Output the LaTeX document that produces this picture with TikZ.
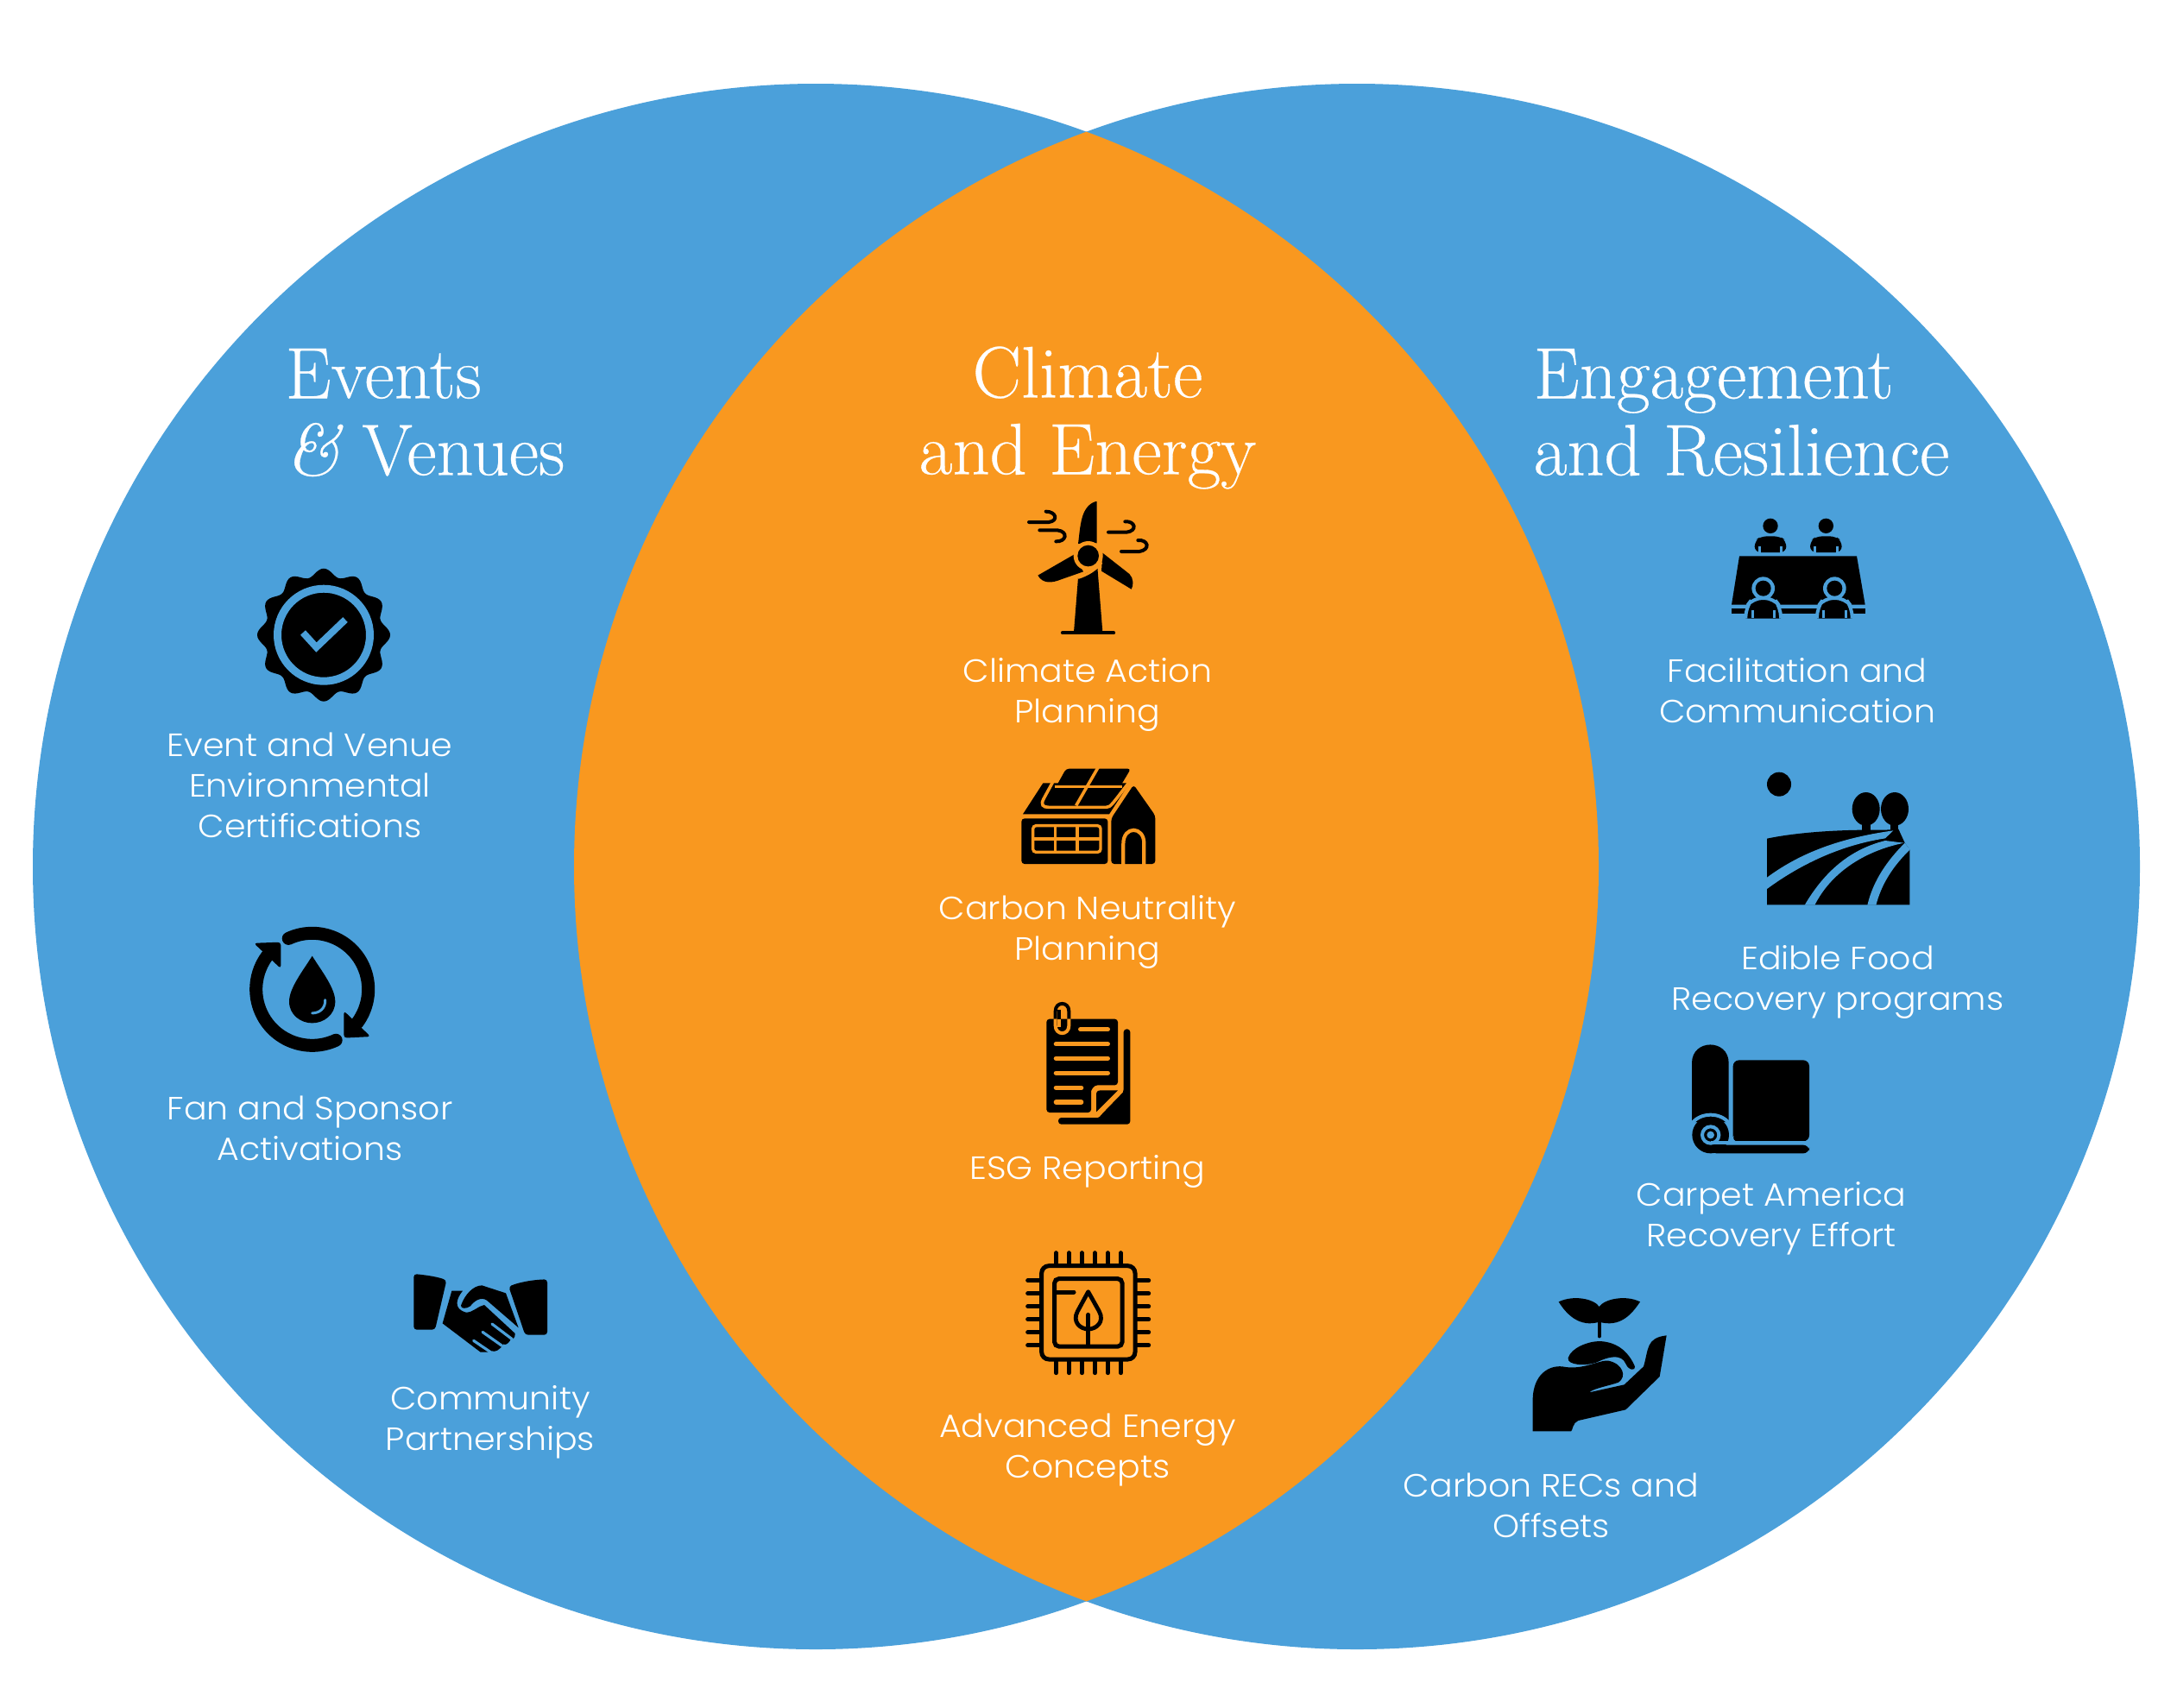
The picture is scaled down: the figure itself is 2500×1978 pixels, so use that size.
\documentclass[tikz,border=0pt]{standalone}
\usepackage{fontspec}
\setmainfont[FakeStretch=1.06]{Poppins Light}
\newfontfamily\headfont[FakeBold=0.35]{Latin Modern Roman}
\definecolor{vblue}{HTML}{4BA0DA}
\definecolor{vorange}{HTML}{F9981F}
\tikzset{
  lw/.style={line width=#1*0.01cm},
  label/.style={text=white,align=center,font=\fontsize{10.6}{13.35}\selectfont,inner sep=0pt},
  head/.style={text=white,font=\headfont\fontsize{24}{25.3}\selectfont,inner sep=0pt},
  cropA/.style={shift={(270,640)},xscale=1/3,yscale=1/2.613},
  cropB/.style={shift={(1170,570)},xscale=1/3,yscale=1/3},
  cropC/.style={shift={(1170,1150)},xscale=1/3,yscale=1/3},
  cropD/.style={shift={(1980,580)},xscale=1/3,yscale=1/3},
  cropE/.style={shift={(1740,1190)},xscale=1/3,yscale=1/3},
  cropF/.style={shift={(460,1450)},xscale=1/3,yscale=1/3},
}
\begin{document}
\begin{tikzpicture}[x=0.01cm,y=-0.01cm]
\useasboundingbox (0,0) rectangle (2500,1978);
\fill[white] (0,0) rectangle (2500,1978);
% circles
\fill[vblue] (945,1004) circle[radius=907];
\fill[vblue] (1572,1004) circle[radius=907];
\begin{scope}
  \clip (945,1004) circle[radius=907];
  \fill[vorange] (1572,1004) circle[radius=907];
\end{scope}

% headings
\node[head,anchor=west,align=left] (hEvents) at (330,478) {Events\\[0pt]{\itshape\&} Venues};
\node[head,align=center] (hClimate) at (1260,484) {Climate\\[0pt]and Energy};
\node[head,anchor=west,align=left] (hEngage) at (1776,478) {Engagement\\[0pt]and Resilience};

% labels
\node[label] (tEvent) at (359,910) {Event and Venue\\Environmental\\Certifications};
\node[label] (tFan) at (359,1307) {Fan and Sponsor\\Activations};
\node[label] (tComm) at (568,1648) {Community\\Partnerships};
\node[label] (tCAP) at (1260,805) {Climate Action\\Planning};
\node[label] (tCNP) at (1260,1080) {Carbon Neutrality\\Planning};
\node[label] (tESG) at (1260,1357) {ESG Reporting};
\node[label] (tAEC) at (1260,1680) {Advanced Energy\\Concepts};
\node[label] (tFac) at (2082,800) {Facilitation and\\Communication};
\node[label] (tFood) at (2129,1138) {Edible Food\\Recovery programs};
\node[label] (tCarpet) at (2052,1412) {Carpet America\\Recovery Effort};
\node[label] (tREC) at (1797,1744) {Carbon RECs and\\Offsets};

% badge
\fill[black] plot[domain=0:360,samples=181,smooth] ({375+(72.5+4.5*cos(12*\x))*cos(\x)},{735.7+(72.5+4.5*cos(12*\x))*sin(\x)}) -- cycle;
\draw[vblue,lw=9] (375,735.7) circle[radius=53.5];
\draw[vblue,lw=8,miter limit=10] (351,733) -- (366.5,750) -- (400,718);

% recycle drop
\begin{scope}[shift={(361.7,1146.3)}]
  \draw[black,lw=15,line cap=round] (-115:65) arc[start angle=-115,end angle=37,radius=65];
  \draw[black,lw=15,line cap=round] (65:65) arc[start angle=65,end angle=217,radius=65];
\end{scope}
\begin{scope}[cropA]
  \fill[black,rounded corners=1pt] (385,1388) -- (385,1470) -- (478,1466) -- cycle;
  \fill[black,rounded corners=1pt] (72,1183) -- (166,1180) -- (166,1260) -- cycle;
  \fill[black] (275,1222) .. controls (240,1270) and (195,1320) .. (195,1360) .. controls (195,1400) and (235,1425) .. (275,1425) .. controls (315,1425) and (355,1400) .. (355,1360) .. controls (355,1320) and (310,1270) .. (275,1222) -- cycle;
  \draw[vblue,lw=3,line cap=round] (320,1355) .. controls (322,1380) and (300,1395) .. (275,1395);
\end{scope}

% handshake
\begin{scope}[cropF]
  \fill[black,rounded corners=1pt] (58,78) .. controls (100,82) and (140,88) .. (172,100) -- (132,272) -- (58,272) -- cycle;
  \fill[black,rounded corners=1pt] (388,122) .. controls (430,105) and (480,98) .. (522,97) -- (522,290) -- (445,290) -- cycle;
  \fill[black] (190,137) -- (228,137) .. controls (205,165) and (195,200) .. (240,212) .. controls (265,212) and (280,190) .. (303,186) -- (410,285) .. controls (412,300) and (400,308) .. (395,305) .. controls (385,325) and (375,325) .. (370,322) .. controls (355,345) and (340,350) .. (330,346) -- (315,350) -- (290,350) -- (158,250) -- cycle;
  \draw[vblue,lw=3.2,line cap=round] (330,252) -- (400,305);
  \draw[vblue,lw=3.2,line cap=round] (297,280) -- (365,328);
  \draw[vblue,lw=3.2,line cap=round] (266,310) -- (325,350);
  \fill[black] (222,188) .. controls (235,150) and (265,118) .. (295,118) -- (378,145) -- (422,265) -- (312,170) .. controls (290,155) and (265,175) .. (255,190) .. controls (240,200) and (222,200) .. (222,188) -- cycle;
\end{scope}

% turbine
\begin{scope}[cropB]
  \fill[black] (237,180) .. controls (245,120) and (245,50) .. (298,33) -- (302,33) -- (302,178) -- cycle;
  \fill[black] (222,218) -- (97,290) .. controls (115,322) and (150,315) .. (175,305) -- (255,277) -- cycle;
  \fill[black] (322,212) -- (415,285) .. controls (430,300) and (430,325) .. (422,338) -- (318,275) -- cycle;
  \fill[black] (237,298) -- (222,487) -- (322,487) -- (304,262) -- cycle;
  \draw[black,lw=4.3,line cap=round] (183,490) -- (360,490);
  \fill[vorange] (272,222) circle[radius=51];
  \fill[black] (272,222) circle[radius=37];
  \draw[vorange,lw=3] (237,298) .. controls (265,290) and (300,270) .. (318,245);
  \draw[black,lw=4,line cap=round] (66,105) -- (135,105) .. controls (170,100) and (160,68) .. (125,68);
  \draw[black,lw=4,line cap=round] (103,133) -- (165,133) .. controls (205,138) and (195,174) .. (160,172);
  \draw[black,lw=4,line cap=round] (342,140) -- (405,140) .. controls (445,135) and (435,100) .. (400,103);
  \draw[black,lw=4,line cap=round] (387,207) -- (450,207) .. controls (490,200) and (480,165) .. (445,168);
\end{scope}

% house
\begin{scope}[cropB]
  \fill[black] (45,1120) -- (115,1012) -- (415,1012) -- (345,1120) -- cycle;
  \fill[black,rounded corners=1pt] (195,962) -- (420,962) -- (345,1088) -- (125,1088) -- cycle;
  \draw[vorange,lw=3.6] (148,1010) -- (118,1065) .. controls (105,1088) and (115,1096) .. (135,1096) -- (335,1096) .. controls (350,1096) and (355,1085) .. (415,1008);
  \draw[vorange,lw=3.6] (306,958) -- (230,1090);
  \draw[vorange,lw=3.6] (155,1024) -- (390,1024);
  \fill[black,rounded corners=1pt] (40,1135) -- (340,1135) -- (340,1293) -- (40,1293) -- cycle;
  \draw[vorange,lw=3.4,rounded corners=1pt] (80,1160) rectangle (315,1252);
  \draw[vorange,lw=3.4] (158,1160) -- (158,1252) (234,1160) -- (234,1252) (80,1206) -- (315,1206);
  \fill[black,rounded corners=1pt] (352,1135) -- (430,1018) -- (505,1125) -- (505,1293) -- (352,1293) -- cycle;
  \draw[vorange,lw=4.2] (394,1296) -- (394,1222) .. controls (394,1160) and (466,1160) .. (466,1222) -- (466,1296);
\end{scope}

% document
\begin{scope}[cropC]
  \fill[black,rounded corners=1pt] (395,127) -- (418,127) -- (418,458) -- (168,458) -- (168,435) -- (295,435) .. controls (310,435) and (315,428) .. (322,420) -- (385,355) .. controls (392,348) and (395,340) .. (395,325) -- cycle;
  \fill[black,rounded corners=1pt] (127,92) -- (375,92) -- (375,322) -- (315,322) .. controls (290,322) and (282,340) .. (282,355) -- (282,417) -- (127,417) -- cycle;
  \fill[black] (300,415) -- (300,355) .. controls (300,345) and (305,340) .. (315,340) -- (375,340) -- cycle;
  \draw[vorange,lw=5.3,line cap=round] (245,128) -- (340,128) (160,179) -- (340,179) (160,229) -- (340,229) (160,280) -- (340,280) (160,331) -- (248,331) (160,381) -- (248,381);
  \draw[black,lw=4] (158,92) -- (158,65) .. controls (158,30) and (205,30) .. (205,65) -- (205,92);
  \draw[black,lw=4] (172,92) -- (172,60);
  \draw[vorange,lw=4] (158,92) -- (158,115) .. controls (158,150) and (205,150) .. (205,115) -- (205,92);
  \draw[vorange,lw=4] (172,92) -- (172,120);
\end{scope}

% chip
\begin{scope}[cropC]
  \draw[black,lw=5,rounded corners=2.4pt] (110,950) rectangle (435,1275);
  \draw[black,lw=5,rounded corners=1.4pt] (155,995) rectangle (390,1230);
  \draw[black,lw=5,line cap=round] (160,905) -- (160,945) (205,905) -- (205,945) (250,905) -- (250,945) (295,905) -- (295,945) (340,905) -- (340,945) (385,905) -- (385,945);
  \draw[black,lw=5,line cap=round] (160,1280) -- (160,1322) (205,1280) -- (205,1322) (250,1280) -- (250,1322) (295,1280) -- (295,1322) (340,1280) -- (340,1322) (385,1280) -- (385,1322);
  \draw[black,lw=5,line cap=round] (62,1001) -- (105,1001) (62,1046) -- (105,1046) (62,1091) -- (105,1091) (62,1136) -- (105,1136) (62,1181) -- (105,1181) (62,1226) -- (105,1226);
  \draw[black,lw=5,line cap=round] (440,1001) -- (482,1001) (440,1046) -- (482,1046) (440,1091) -- (482,1091) (440,1136) -- (482,1136) (440,1181) -- (482,1181) (440,1226) -- (482,1226);
  \draw[black,lw=5,line cap=round] (155,1041) -- (222,1041);
  \draw[black,lw=4.8,line join=round] (272,1040) -- (235,1108) .. controls (215,1145) and (245,1170) .. (272,1170) .. controls (300,1170) and (330,1145) .. (310,1108) -- cycle;
  \draw[black,lw=5,line cap=round] (272,1120) -- (272,1225);
\end{scope}

% meeting
\begin{scope}[cropD]
  \foreach \dx in {0,193} {
    \fill[black] (213+\dx,88) circle[radius=26];
    \fill[black,rounded corners=2pt] (158+\dx,180) -- (158+\dx,140) -- (180+\dx,124) -- (246+\dx,124) -- (268+\dx,140) -- (268+\dx,180) -- cycle;
    \draw[vblue,lw=3] (175+\dx,158) -- (175+\dx,182) (251+\dx,158) -- (251+\dx,182);
  }
  \fill[black] (105,193) -- (513,193) -- (542,362) -- (78,362) -- cycle;
  \fill[black] (78,376) rectangle (543,392);
  \foreach \dx in {0,248} {
    \fill[vblue] (188+\dx,305) circle[radius=40];
    \fill[black] (188+\dx,305) circle[radius=27];
    \draw[vblue,lw=4,fill=black,rounded corners=3pt] (127+\dx,410) -- (127+\dx,372) -- (152+\dx,339) -- (224+\dx,339) -- (249+\dx,372) -- (249+\dx,410);
    \draw[vblue,lw=3] (150+\dx,380) -- (150+\dx,408) (226+\dx,380) -- (226+\dx,408);
  }
\end{scope}

% farm
\begin{scope}[cropD]
  \fill[black] (243,986) circle[radius=42];
  \fill[black] (545,1072) ellipse[x radius=48,y radius=58];
  \fill[black] (645,1072) ellipse[x radius=48,y radius=58];
  \fill[black] (530,1120) rectangle (560,1150);
  \fill[black] (630,1120) rectangle (658,1146);
  \fill[black] (201,1175) .. controls (320,1150) and (480,1143) .. (610,1145) -- (658,1142) -- (680,1190) -- (697,1213) -- (697,1405) -- (201,1405) -- cycle;
  \fill[vblue] (201,1310) .. controls (320,1222) and (460,1172) .. (640,1147) -- (612,1174) .. controls (470,1196) and (330,1255) .. (201,1350) -- cycle;
  \fill[vblue] (332,1406) .. controls (400,1290) and (490,1212) .. (612,1182) -- (677,1190) .. controls (530,1220) and (420,1300) .. (367,1406) -- cycle;
  \fill[vblue] (550,1406) .. controls (570,1320) and (620,1250) .. (680,1190) -- (698,1213) .. controls (640,1270) and (600,1330) .. (580,1406) -- cycle;
\end{scope}

% carpet
\begin{scope}[cropE]
  \fill[black] (660,330) -- (660,125) .. controls (660,40) and (788,40) .. (788,125) -- (788,330) -- cycle;
  \fill[black,rounded corners=2pt] (803,115) -- (1068,115) -- (1068,397) -- (798,397) .. controls (803,385) and (803,375) .. (803,360) -- cycle;
  \fill[black] (725,375) circle[radius=64];
  \fill[black,rounded corners=2pt] (725,410) rectangle (1068,439);
  \draw[vblue,lw=4] (660,335) .. controls (690,295) and (760,295) .. (790,335);
  \draw[vblue,lw=4] (725,403) -- (1070,403);
  \draw[vblue,lw=4] (725,375) circle[radius=29];
  \fill[vblue] (725,375) circle[radius=13];
  \fill[vblue] (790,300) rectangle (802,398);
\end{scope}

% hand and plant
\begin{scope}[cropE]
  \fill[black] (197,955) .. controls (250,930) and (320,945) .. (338,972) .. controls (356,945) and (430,930) .. (480,955) .. controls (450,1000) and (410,1045) .. (338,1025) .. controls (270,1045) and (225,1000) .. (197,955) -- cycle;
  \draw[black,lw=4.2,line cap=round] (338,1020) -- (338,1075);
  \fill[black] (230,1150) .. controls (240,1115) and (300,1092) .. (340,1092) .. controls (410,1095) and (445,1140) .. (462,1180) .. controls (465,1195) and (440,1195) .. (430,1170) .. controls (415,1135) and (370,1145) .. (330,1165) .. controls (290,1180) and (225,1175) .. (230,1150) -- cycle;
  \fill[black] (107,1405) -- (107,1290) .. controls (110,1210) and (160,1175) .. (210,1180) .. controls (280,1195) and (340,1155) .. (370,1160) .. controls (420,1170) and (435,1215) .. (405,1235) .. controls (380,1245) and (320,1255) .. (303,1270) -- (425,1243) -- (492,1180) .. controls (510,1120) and (500,1080) .. (572,1072) -- (548,1215) -- (430,1330) -- (265,1368) .. controls (245,1375) and (245,1405) .. (240,1405) -- cycle;
\end{scope}
\end{tikzpicture}
\end{document}
